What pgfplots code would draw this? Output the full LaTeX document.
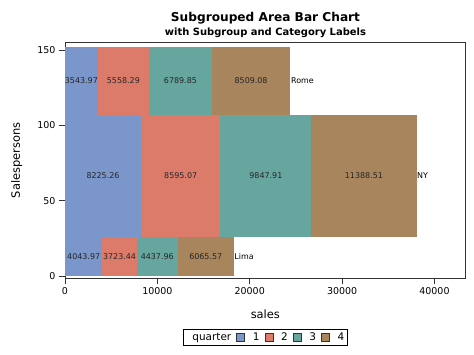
\documentclass[border=0pt]{standalone}
\usepackage{fontspec}
\setmainfont{DejaVu Sans}
\usepackage{pgfplots}
\usepackage{pgfplotstable}
\pgfplotsset{compat=1.18}
\definecolor{q1}{HTML}{7B96CB}
\definecolor{q2}{HTML}{DD7B6B}
\definecolor{q3}{HTML}{66A69F}
\definecolor{q4}{HTML}{A8855C}
\definecolor{axgray}{HTML}{333333}

\pgfplotstableread{
x y label
2021.985 13 4043.97
5905.69 13 3723.44
9986.39 13 4437.96
15238.155 13 6065.57
4112.63 66.5 8225.26
12522.795 66.5 8595.07
21744.285 66.5 9847.91
32362.495 66.5 11388.51
1771.985 129.5 3543.97
6323.115 129.5 5558.29
12497.185 129.5 6789.85
20146.65 129.5 8509.08
}\segtable

\pgfplotstableread{
x y label
18270.94 13 Lima
38056.75 66.5 NY
24401.19 129.5 Rome
}\citytable

\begin{document}
\begin{tikzpicture}
\path[use as bounding box] (0,0) rectangle (474bp,355bp);
\node[font=\fontsize{12.2}{14}\selectfont\bfseries, anchor=base] at (265.5bp,333.5bp) {Subgrouped Area Bar Chart};
\node[font=\fontsize{10}{12}\selectfont\bfseries, anchor=base] at (265.5bp,319.7bp) {with Subgroup and Category Labels};
\begin{axis}[
  at={(65bp,77bp)}, anchor=south west,
  scale only axis, width=400.7bp, height=235.3bp,
  xmin=0, xmax=43380, ymin=-1.3, ymax=154.9,
  xtick={0,10000,20000,30000,40000},
  ytick={0,50,100,150},
  scaled x ticks=false,
  /pgf/number format/assume math mode=true,
  /pgf/number format/set thousands separator={},
  ticklabel style={font=\fontsize{9.5}{11}\selectfont},
  tick align=outside, tick pos=left, major tick length=6bp,
  axis line style={axgray, line width=0.8bp},
  every tick/.style={axgray, line width=0.8bp},
  xlabel={sales}, ylabel={Salespersons},
  label style={font=\fontsize{11.5}{13}\selectfont},
  xlabel style={at={(axis description cs:0.5,-0.174)}, anchor=base},
  ylabel style={at={(axis description cs:-0.1123,0.5)}, anchor=base},
  legend style={at={(0.5,-0.2167)}, anchor=north, draw=black, line width=0.6bp,
    font=\fontsize{10.5}{12}\selectfont, inner sep=1.5bp,
    /tikz/every even column/.append style={column sep=3bp},
    /tikz/every odd column/.append style={column sep=6bp}},
  legend columns=5,
]
% Lima (0-26)
\addplot[fill=q1, draw=none, forget plot] coordinates {(0,0) (4043.97,0) (4043.97,26) (0,26)} -- cycle;
\addplot[fill=q2, draw=none, forget plot] coordinates {(4043.97,0) (7767.41,0) (7767.41,26) (4043.97,26)} -- cycle;
\addplot[fill=q3, draw=none, forget plot] coordinates {(7767.41,0) (12205.37,0) (12205.37,26) (7767.41,26)} -- cycle;
\addplot[fill=q4, draw=none, forget plot] coordinates {(12205.37,0) (18270.94,0) (18270.94,26) (12205.37,26)} -- cycle;
% NY (26-107)
\addplot[fill=q1, draw=none, forget plot] coordinates {(0,26) (8225.26,26) (8225.26,107) (0,107)} -- cycle;
\addplot[fill=q2, draw=none, forget plot] coordinates {(8225.26,26) (16820.33,26) (16820.33,107) (8225.26,107)} -- cycle;
\addplot[fill=q3, draw=none, forget plot] coordinates {(16820.33,26) (26668.24,26) (26668.24,107) (16820.33,107)} -- cycle;
\addplot[fill=q4, draw=none, forget plot] coordinates {(26668.24,26) (38056.75,26) (38056.75,107) (26668.24,107)} -- cycle;
% Rome (107-152)
\addplot[fill=q1, draw=none, forget plot] coordinates {(0,107) (3543.97,107) (3543.97,152.3) (0,152.3)} -- cycle;
\addplot[fill=q2, draw=none, forget plot] coordinates {(3543.97,107) (9102.26,107) (9102.26,152.3) (3543.97,152.3)} -- cycle;
\addplot[fill=q3, draw=none, forget plot] coordinates {(9102.26,107) (15892.11,107) (15892.11,152.3) (9102.26,152.3)} -- cycle;
\addplot[fill=q4, draw=none, forget plot] coordinates {(15892.11,107) (24401.19,107) (24401.19,152.3) (15892.11,152.3)} -- cycle;
% segment labels
\addplot[only marks, mark=none, forget plot, nodes near coords, point meta=explicit symbolic,
  nodes near coords style={font=\fontsize{8}{9}\selectfont, anchor=center, inner sep=0pt, text=black!85}]
  table[x=x, y=y, meta=label] {\segtable};
% city labels
\addplot[only marks, mark=none, forget plot, nodes near coords, point meta=explicit symbolic,
  nodes near coords style={font=\fontsize{8}{9}\selectfont, anchor=west, inner sep=0.5bp, text=black}]
  table[x=x, y=y, meta=label] {\citytable};
% legend
\addlegendimage{empty legend}
\addlegendentry{quarter\hspace{3bp}}
\addlegendimage{legend image code/.code={\draw[fill=q1, draw=black!80, line width=0.6bp] (0bp,-4bp) rectangle (8bp,4bp);}}
\addlegendentry{1}
\addlegendimage{legend image code/.code={\draw[fill=q2, draw=black!80, line width=0.6bp] (0bp,-4bp) rectangle (8bp,4bp);}}
\addlegendentry{2}
\addlegendimage{legend image code/.code={\draw[fill=q3, draw=black!80, line width=0.6bp] (0bp,-4bp) rectangle (8bp,4bp);}}
\addlegendentry{3}
\addlegendimage{legend image code/.code={\draw[fill=q4, draw=black!80, line width=0.6bp] (0bp,-4bp) rectangle (8bp,4bp);}}
\addlegendentry{4}
\end{axis}
\end{tikzpicture}
\end{document}
